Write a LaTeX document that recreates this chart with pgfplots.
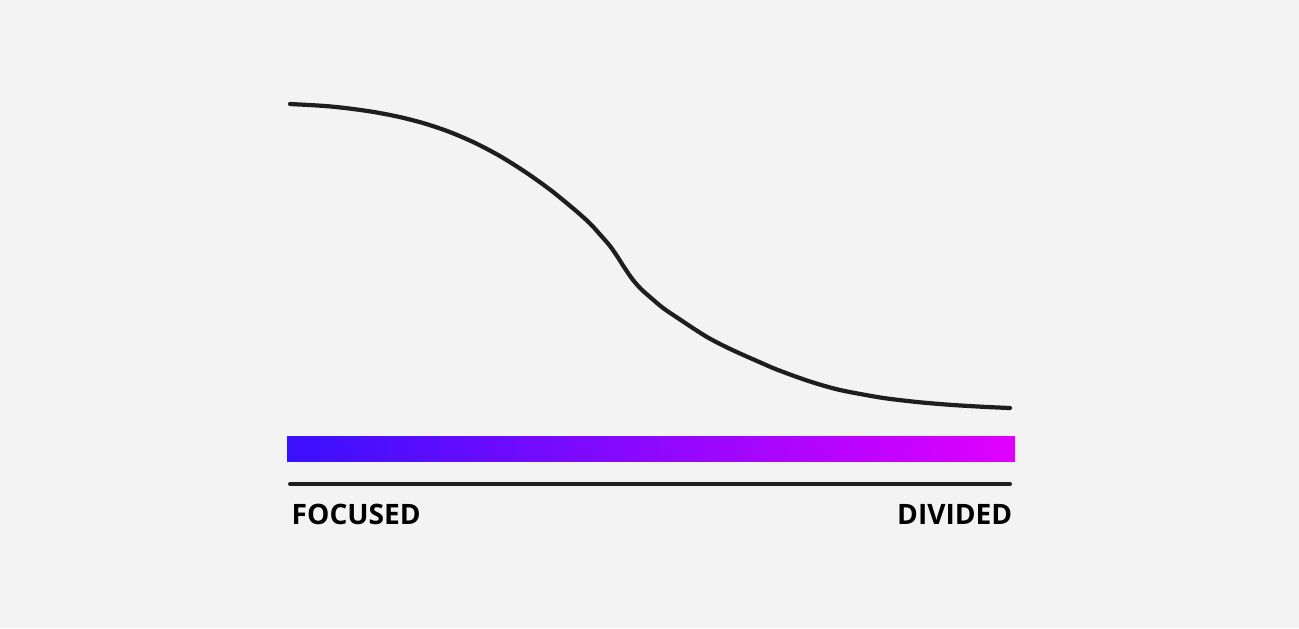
\documentclass[border=0pt]{standalone}
\usepackage{pgfplots}
\pgfplotsset{compat=1.18}
\usepackage{fontspec}
\setmainfont{Open Sans}
\definecolor{bg}{HTML}{F3F3F3}
\definecolor{lc}{HTML}{1E1E1E}
\definecolor{cblue}{HTML}{3A10FF}
\definecolor{cmag}{HTML}{E000FF}
\begin{document}
\begin{tikzpicture}
\begin{axis}[
  scale only axis, width=12.99cm, height=6.28cm,
  xmin=0, xmax=1299, ymin=0, ymax=628,
  axis lines=none, clip=false,
]
% background
\addplot[fill=bg, draw=none] coordinates {(0,0) (1299,0) (1299,628) (0,628)} -- cycle;
% gradient bar
\addplot[draw=none, left color=cblue, right color=cmag] coordinates {(287,167) (1015,167) (1015,192) (287,192)} -- cycle;
% baseline
\addplot[lc, line width=1.15pt, line cap=round] coordinates {(290,144) (1010,144)};
% curve
\addplot[lc, line width=1.2pt, smooth, tension=0.5, line cap=round] coordinates {
(290,524) (325,522) (350,519.4) (375,515.8) (400,510.9) (425,504.4)
(450,495.9) (475,485.1) (500,471.9) (525,456.2) (550,438.4) (575,418)
(590,404.5) (600,393.5) (610,382) (618,370.5) (623,362.5) (628,355)
(633,348) (641,339) (650,331) (663,320) (677,310.5) (692,300.5)
(707,291) (723,282.5) (740,274.5) (757,267) (773,260) (790,253.5)
(807,247.5) (823,242.5) (840,238) (863,233.5) (887,229.5) (920,225.7)
(953,223) (987,221) (1010,220)
};
\node[anchor=base west, inner sep=0pt, font=\fontsize{8.0}{10}\selectfont\bfseries, text=black] at (axis cs:291,104) {FOCUSED};
\node[anchor=base east, inner sep=0pt, font=\fontsize{8.0}{10}\selectfont\bfseries, text=black] at (axis cs:1013,104) {DIVIDED};
\end{axis}
\end{tikzpicture}
\end{document}
